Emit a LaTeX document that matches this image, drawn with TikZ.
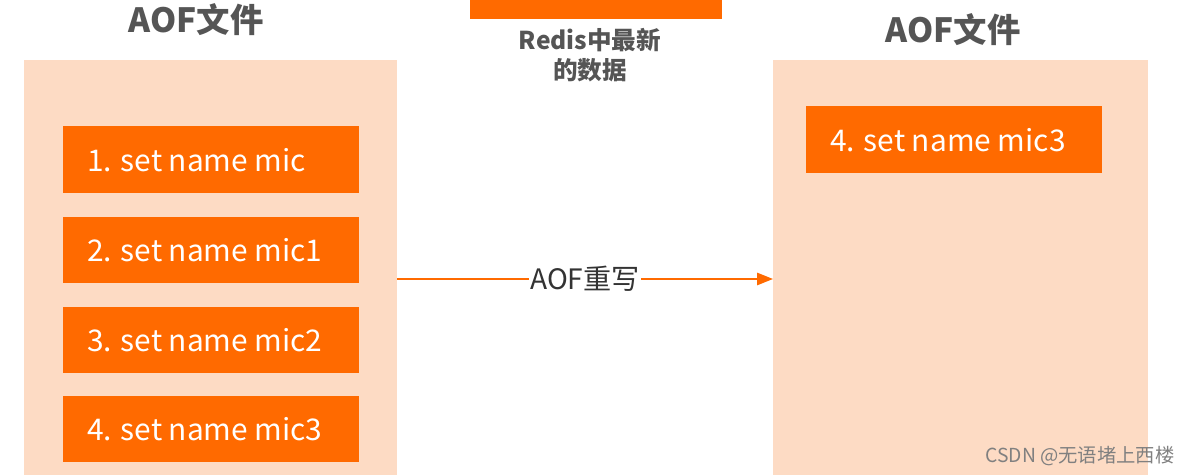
\documentclass[tikz,border=0pt]{standalone}
\usepackage{fontspec}
\setmainfont{Noto Sans CJK SC}
\usetikzlibrary{arrows.meta}
\definecolor{peach}{HTML}{FDDBC4}
\definecolor{org}{HTML}{FF6A00}
\definecolor{tgray}{HTML}{555555}
\tikzset{
 cmd/.style={fill=org,draw=none,minimum width=5.92cm,minimum height=1.34cm,inner sep=0},
 ctext/.style={text=white,font=\fontsize{17}{19}\selectfont,inner sep=0,anchor=west},
 title/.style={text=tgray,font=\bfseries\fontsize{19}{21}\selectfont},
}
\begin{document}
\begin{tikzpicture}[x=0.02cm,y=-0.02cm]
\useasboundingbox (0,0) rectangle (1193,475);
\fill[peach] (24,60) rectangle (397,475);
\fill[peach] (773,60) rectangle (1148,475);
\fill[org] (470,0) rectangle (722,19);
\node[title] (t1) at (196,20) {AOF文件};
\node[title] (t2) at (953,30) {AOF文件};
\node[text=tgray,font=\bfseries\fontsize{14}{17}\selectfont,align=center] (r) at (590,55) {Redis中最新\\的数据};
\node[cmd] (a1) at (211,160) {};
\node[cmd] (a2) at (211,250) {};
\node[cmd] (a3) at (211,340) {};
\node[cmd] (a4) at (211,429) {};
\node[cmd] (b1) at (954,140) {};
\node[ctext] (a1t) at ([xshift=0.48cm]a1.west) {1. set name mic};
\node[ctext] (a2t) at ([xshift=0.48cm]a2.west) {2. set name mic1};
\node[ctext] (a3t) at ([xshift=0.48cm]a3.west) {3. set name mic2};
\node[ctext] (a4t) at ([xshift=0.48cm]a4.west) {4. set name mic3};
\node[ctext] (b1t) at ([xshift=0.48cm]b1.west) {4. set name mic3};
\coordinate (s) at (397,279);
\coordinate (e) at (773,279);
\draw[org,thick,-{Triangle[length=9pt,width=7pt]}] (s) -- node[fill=white,text=black!80,inner sep=1pt,font=\fontsize{16}{18}\selectfont]{AOF重写} (e);
\node[text=gray,font=\fontsize{11}{13}\selectfont] (w) at (1080,456) {CSDN @无语堵上西楼};
\end{tikzpicture}
\end{document}
